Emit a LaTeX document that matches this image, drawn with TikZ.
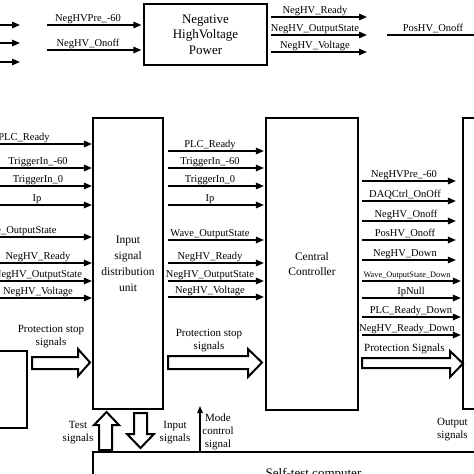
\documentclass[tikz,border=0pt]{standalone}
\usepackage{fontspec}
\setmainfont{Liberation Serif}
\usetikzlibrary{arrows.meta}
\begin{document}
\begin{tikzpicture}[x=1pt,y=-1pt,
  box/.style={draw,line width=2.2pt,inner sep=0pt,align=center},
  sig/.style={line width=1.4pt,-{Triangle[length=8pt,width=6.5pt]}},
  lab/.style={font=\fontsize{10.5}{12}\selectfont,inner sep=0pt,anchor=base},
  slab/.style={font=\fontsize{11}{13}\selectfont,inner sep=0pt,align=center},
  hollow/.style={draw,line width=2pt,fill=white,line join=miter}]
\useasboundingbox (0,0) rectangle (474,474);
\clip (0,0) rectangle (474,474);

% boxes
\node[box,minimum width=123pt,minimum height=61pt,font=\fontsize{13}{15.5}\selectfont] (nhv) at (205.5,34.5) {Negative\\HighVoltage\\Power};
\node[box,minimum width=70pt,minimum height=291pt,font=\fontsize{11.5}{16}\selectfont] (inp) at (128,263.5) {Input\\signal\\distribution\\unit};
\node[box,minimum width=92pt,minimum height=292pt,font=\fontsize{11.5}{15}\selectfont] (cc) at (312,264) {Central\\Controller};
\node[box,minimum width=70pt,minimum height=291pt] (rb) at (498,263.5) {};
\node[box,minimum width=47pt,minimum height=77pt] (lb) at (3.5,389.5) {};
\node[box,minimum width=447pt,minimum height=68pt] (stc) at (316.5,486) {};
\node[inner sep=0pt,anchor=base,font=\fontsize{13}{15}\selectfont] (stct) at (313.5,477) {Self-test computer};

% top section
\foreach \y [count=\i] in {25,43,62} {
  \coordinate (ta\i) at (-5,\y);
  \coordinate (tb\i) at (20,\y);
  \draw[sig] (ta\i) -- (tb\i);
}
\foreach \y/\t [count=\i] in {25/NegHVPre\_-60,50/NegHV\_Onoff} {
  \coordinate (na\i) at (47,\y);
  \draw[sig,shorten >=1.5pt] (na\i) -- (nhv.west |- na\i);
  \node[lab] (nl\i) at (88,\y-3.5) {\t};
}
\foreach \y/\t [count=\i] in {17/NegHV\_Ready,35/NegHV\_OutputState,52/NegHV\_Voltage} {
  \coordinate (no\i) at (367,\y);
  \draw[sig,shorten <=3pt] (nhv.east |- no\i) -- (no\i);
  \node[lab] (nol\i) at (315,\y-3.5) {\t};
}
\coordinate (pa) at (387,35);
\coordinate (pb) at (480,35);
\draw[line width=1.4pt] (pa) -- (pb);
\node[lab] (pl) at (433,31.5) {PosHV\_Onoff};

% left inputs
\foreach \y/\t/\cx [count=\i] in {144/PLC\_Ready/24,168/TriggerIn\_-60/38,186/TriggerIn\_0/38,205/Ip/37,237/Wave\_OutputState/17,263/NegHV\_Ready/38,281/NegHV\_OutputState/38,298/NegHV\_Voltage/38} {
  \coordinate (ls\i) at (-5,\y);
  \draw[sig] (ls\i) -- (inp.west |- ls\i);
  \node[lab] (ll\i) at (\cx,\y-3.5) {\t};
}

% middle
\foreach \y/\t [count=\i] in {151/PLC\_Ready,168/TriggerIn\_-60,186/TriggerIn\_0,205/Ip,240/Wave\_OutputState,263/NegHV\_Ready,281/NegHV\_OutputState,297/NegHV\_Voltage} {
  \coordinate (ms\i) at (168,\y);
  \draw[sig,shorten >=1pt] (ms\i) -- (cc.west |- ms\i);
  \node[lab] (ml\i) at (210,\y-3.5) {\t};
}

% right outputs
\foreach \y/\t/\cx/\e [count=\i] in {181/NegHVPre\_-60/404/6,201/DAQCtrl\_OnOff/405/6,221/NegHV\_Onoff/406/6,240/PosHV\_Onoff/405/6,260/NegHV\_Down/405/6,298/IpNull/411/1,317/PLC\_Ready\_Down/411/1,335/NegHV\_Ready\_Down/407/1} {
  \coordinate (rs\i) at (362,\y);
  \draw[sig,shorten >=\e pt] (rs\i) -- (rb.west |- rs\i);
  \node[lab] (rl\i) at (\cx,\y-3.5) {\t};
}
\coordinate (rw) at (362,281);
\draw[sig,shorten >=1pt] (rw) -- (rb.west |- rw);
\node[lab,font=\fontsize{8.3}{10}\selectfont] (rwl) at (407,277.5) {Wave\_OutputState\_Down};

% hollow arrows
\draw[hollow] (32,357) -- (78,357) -- (78,349) -- (90,362.5) -- (78,376) -- (78,369) -- (32,369) -- cycle;
\node[slab] (pl1) at (51,337) {Protection stop\\signals};
\draw[hollow] (168,356) -- (248,356) -- (248,349) -- (262,362.5) -- (248,377) -- (248,369) -- (168,369) -- cycle;
\node[slab] (pl2) at (209,341) {Protection stop\\signals};
\draw[hollow] (362,358) -- (450,358) -- (450,351) -- (463,363.5) -- (450,377) -- (450,368) -- (362,368) -- cycle;
\node[slab,anchor=west] (pl3) at (364,349) {Protection Signals};

\draw[hollow] (99,450) -- (99,425) -- (94,425) -- (106.5,412) -- (119,425) -- (112,425) -- (112,450) -- cycle;
\node[slab] (tsl) at (78,433) {Test\\signals};
\draw[hollow] (134,413) -- (134,434) -- (127,434) -- (140.5,448) -- (154,434) -- (147,434) -- (147,413) -- cycle;
\node[slab] (isl) at (175,433) {Input\\signals};

\coordinate (mb) at (200,451);
\coordinate (mt) at (200,406);
\draw[line width=1.2pt,-{Triangle[length=7pt,width=5.5pt]}] (mb) -- (mt);
\node[slab] (mcl) at (218,432) {Mode\\control\\signal};

\node[slab,align=left,anchor=west] (osl) at (437,429.5) {Output\\signals};
\end{tikzpicture}
\end{document}
